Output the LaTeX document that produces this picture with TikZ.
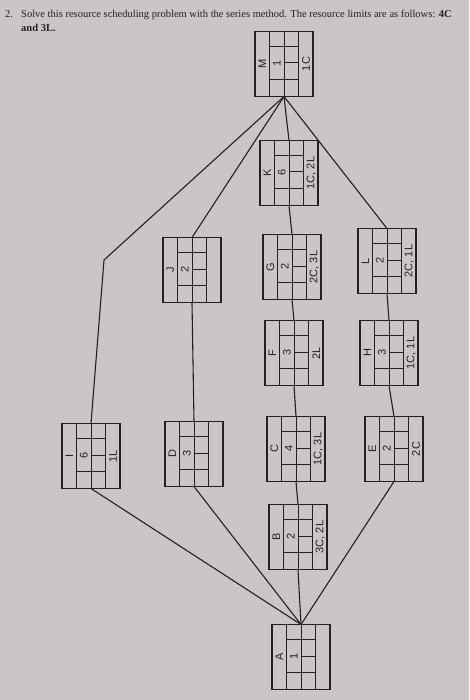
\documentclass[tikz,border=0pt]{standalone}
\usepackage{fontspec}
\setmainfont{Liberation Serif}
\newfontfamily\boxfont{Liberation Sans}
\usetikzlibrary{calc}
\definecolor{paper}{RGB}{203,197,200}
\definecolor{ink}{RGB}{34,32,34}
\newcommand\actbox[6]{%
  \node[actnode] (#1) at (#2,#3) {};
  \begin{scope}[shift={(#1.north west)}]
    \draw[boxline] (14,0) -- (14,65);
    \draw[boxline] (29,0) -- (29,65);
    \draw[boxline] (43.5,0) -- (43.5,65);
    \draw[boxline] (14,15) -- (43.5,15);
    \draw[boxline] (14,48) -- (43.5,48);
    \draw[boxline] (29,31.5) -- (43.5,31.5);
    \node[boxtext] (#1let) at (7.4,32.5) {#4};
    \node[boxtext] (#1dur) at (21.8,31.5) {#5};
    \node[boxtext] (#1res) at (51.2,32.5) {#6};
  \end{scope}}
\begin{document}
\begin{tikzpicture}[x=1pt,y=-1pt,
  actnode/.style={draw=ink,line width=1.1pt,minimum width=58pt,minimum height=65pt,inner sep=0pt,outer sep=0pt},
  boxline/.style={draw=ink,line width=1pt},
  boxtext/.style={rotate=90,inner sep=0pt,text=ink,font=\boxfont\fontsize{11}{13}\selectfont},
  edge/.style={draw=ink,line width=1.1pt},
  title/.style={anchor=base west,inner sep=0pt,text=ink,font=\fontsize{10.5}{12}\selectfont}]
\useasboundingbox[fill=paper] (0,0) rectangle (469,700);
\node[title] (t0) at (5,18) {2.};
\node[title] (t1) at (21,18) {Solve this resource scheduling problem with the series method. The resource limits are as follows: \textbf{4C}};
\node[title] (t2) at (21,32) {\textbf{and 3L.}};
\actbox{M}{284}{64}{M}{1}{1C}
\actbox{K}{289}{173}{K}{6}{1C, 2L}
\actbox{G}{292}{267}{G}{2}{2C, 3L}
\actbox{F}{294}{353}{F}{3}{2L}
\actbox{C}{296}{449}{C}{4}{1C, 3L}
\actbox{B}{298}{537}{B}{2}{3C, 2L}
\actbox{A}{301}{657}{A}{1}{}
\actbox{J}{192}{270}{J}{2}{}
\actbox{D}{194}{454}{D}{3}{}
\actbox{I}{91}{456}{I}{6}{1L}
\actbox{L}{387}{261}{L}{2}{2C, 1L}
\actbox{H}{389}{353}{H}{3}{1C, 1L}
\actbox{E}{394}{449}{E}{2}{2C}
\coordinate (bend) at (104,260);
\draw[edge] (A.north) -- (I.south);
\draw[edge] (A.north) -- (D.south);
\draw[edge] (A.north) -- (B.south);
\draw[edge] (A.north) -- (E.south);
\draw[edge] (B.north) -- (C.south);
\draw[edge] (C.north) -- (F.south);
\draw[edge] (F.north) -- (G.south);
\draw[edge] (G.north) -- (K.south);
\draw[edge] (K.north) -- (M.south);
\draw[edge] (D.north) -- (J.south);
\draw[edge] (J.north) -- (M.south);
\draw[edge] (E.north) -- (H.south);
\draw[edge] (H.north) -- (L.south);
\draw[edge] (L.north) -- (M.south);
\draw[edge] (I.north) -- (bend) -- (M.south);
\end{tikzpicture}
\end{document}
